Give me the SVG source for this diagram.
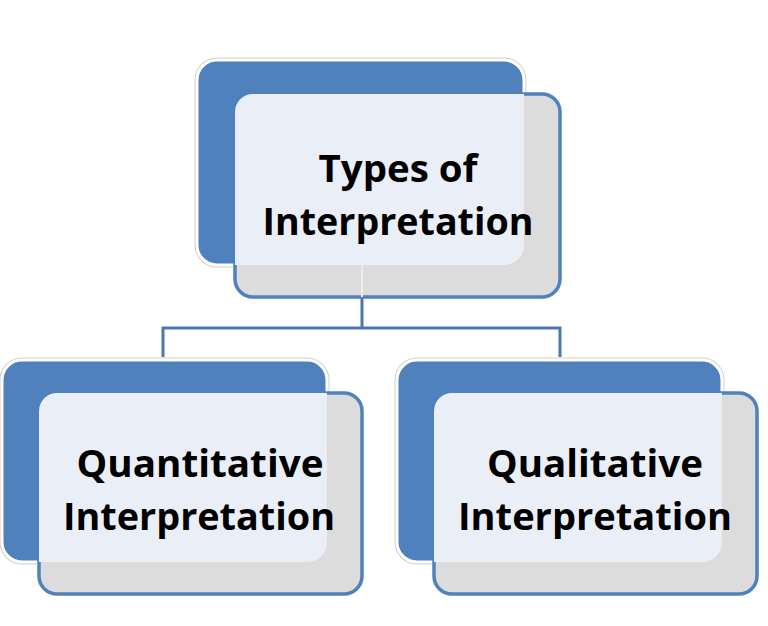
<svg xmlns="http://www.w3.org/2000/svg" width="768" height="626" viewBox="0 0 768 626">
<style>
.halo{fill:none;stroke:#cfcfcf;stroke-width:5}
.back{fill:#4f81bd;stroke:#ffffff;stroke-width:3}
.front{fill:#dcdcdc;stroke:#4f81bd;stroke-width:3.5}
.light{fill:#eaeff7}
.conn{fill:none;stroke:#4a77ad;stroke-width:3}
.lbl{font-family:"Open Sans","Liberation Sans",sans-serif;font-weight:bold;font-size:37px;fill:#000;text-anchor:middle}
</style>
<defs>
<clipPath id="c0"><rect x="197" y="60" width="327" height="205" rx="20"/></clipPath>
<clipPath id="c1"><rect x="2" y="360" width="325" height="202" rx="20"/></clipPath>
<clipPath id="c2"><rect x="397" y="360" width="325" height="202" rx="20"/></clipPath>
</defs>
<rect width="768" height="626" fill="#ffffff"/>
<g id="connectors">
<path class="conn" d="M362,298 V328 M163,357 V328 H560 V357"/>
</g>
<g id="top">
<rect class="halo" x="197" y="60" width="327" height="205" rx="20"/>
<rect class="back" x="197" y="60" width="327" height="205" rx="20"/>
<rect class="front" x="235" y="94" width="325" height="203" rx="18"/>
<rect class="light" clip-path="url(#c0)" x="235" y="94" width="325" height="203" rx="18"/>
<line x1="362" y1="265" x2="362" y2="297" stroke="#ececec" stroke-width="2"/>
<text class="lbl" x="398" y="182" textLength="159" lengthAdjust="spacingAndGlyphs">Types of</text>
<text class="lbl" x="398" y="235" textLength="271" lengthAdjust="spacingAndGlyphs">Interpretation</text>
</g>
<g id="quant">
<rect class="halo" x="2" y="360" width="325" height="202" rx="20"/>
<rect class="back" x="2" y="360" width="325" height="202" rx="20"/>
<rect class="front" x="39" y="393" width="323" height="201" rx="18"/>
<rect class="light" clip-path="url(#c1)" x="39" y="393" width="323" height="201" rx="18"/>
<text class="lbl" x="200" y="477" textLength="247" lengthAdjust="spacingAndGlyphs">Quantitative</text>
<text class="lbl" x="199" y="530" textLength="272" lengthAdjust="spacingAndGlyphs">Interpretation</text>
</g>
<g id="qual">
<rect class="halo" x="397" y="360" width="325" height="202" rx="20"/>
<rect class="back" x="397" y="360" width="325" height="202" rx="20"/>
<rect class="front" x="434" y="393" width="323" height="201" rx="18"/>
<rect class="light" clip-path="url(#c2)" x="434" y="393" width="323" height="201" rx="18"/>
<text class="lbl" x="595" y="477" textLength="216" lengthAdjust="spacingAndGlyphs">Qualitative</text>
<text class="lbl" x="595" y="530" textLength="274" lengthAdjust="spacingAndGlyphs">Interpretation</text>
</g>
</svg>
